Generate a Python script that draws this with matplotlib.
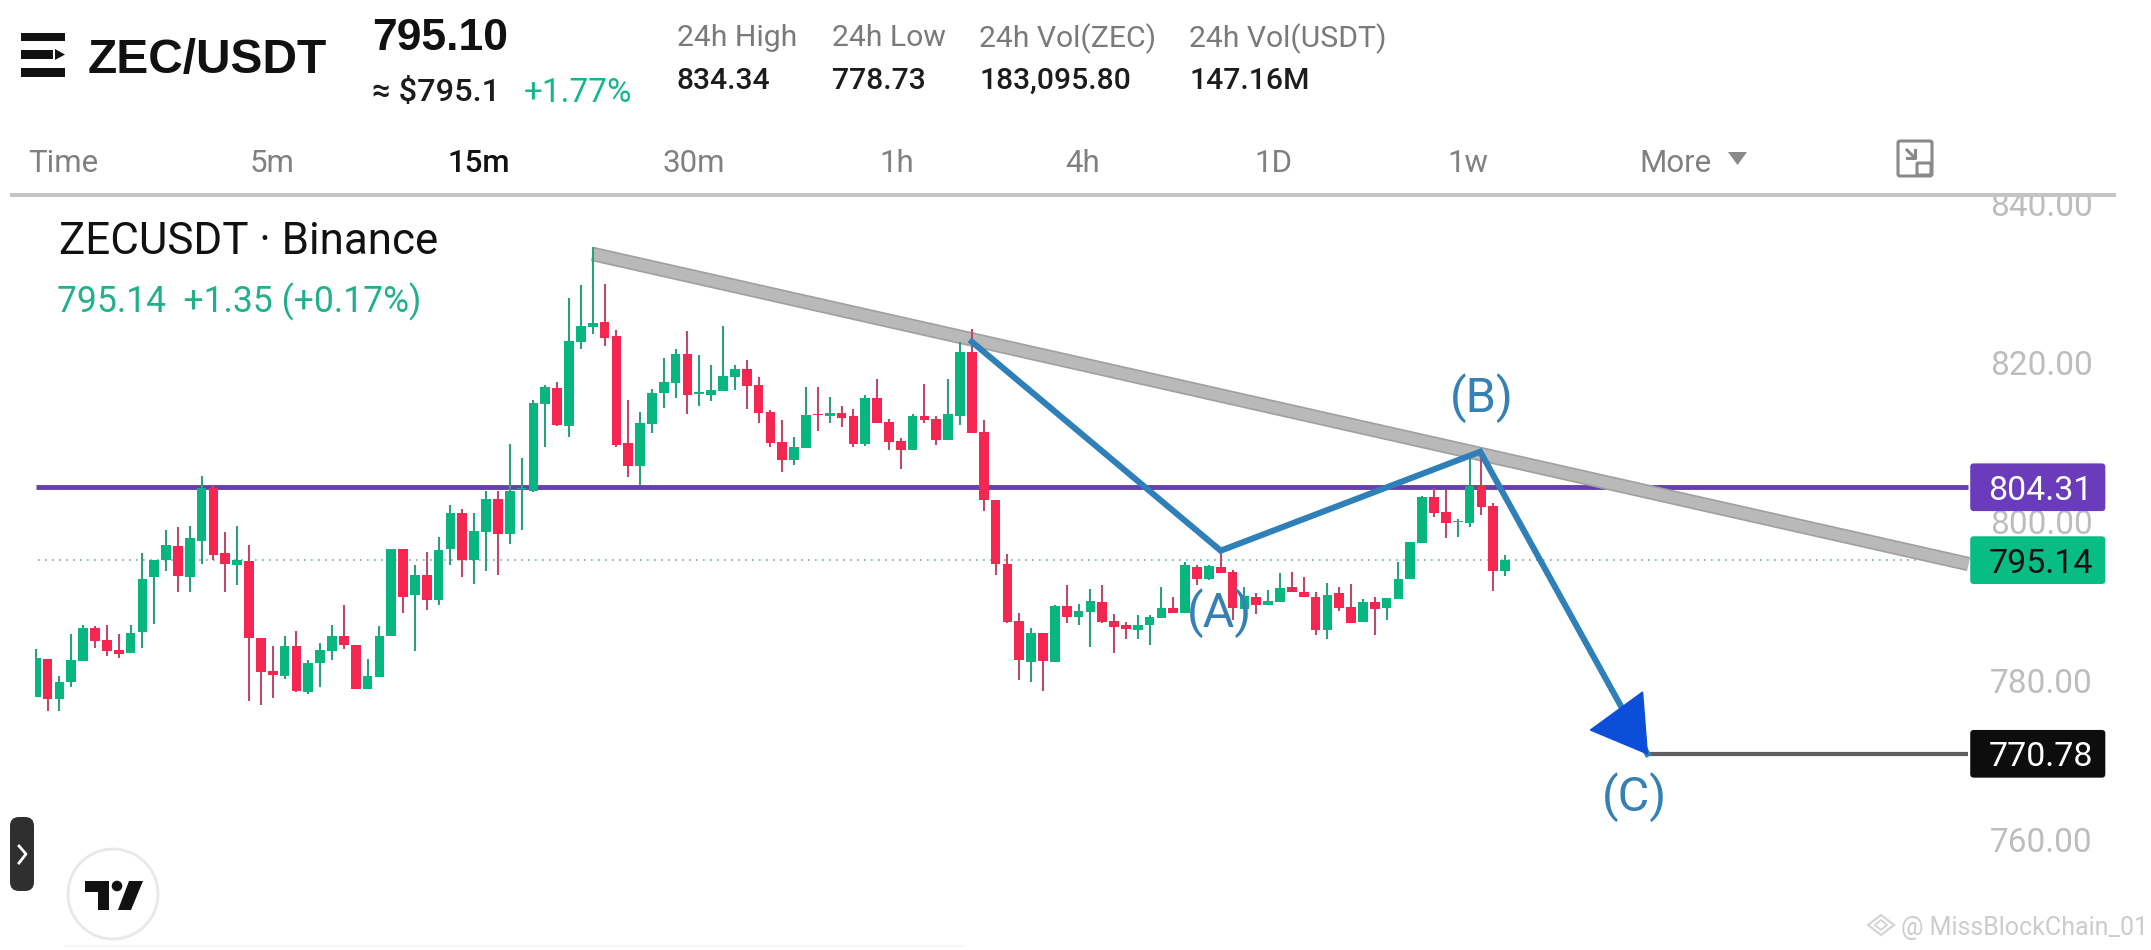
import matplotlib
matplotlib.use("Agg")
import matplotlib.pyplot as plt
import numpy as np
from matplotlib.patches import Rectangle, FancyBboxPatch, Polygon, Circle

plt.rcParams['font.family'] = ['Roboto', 'DejaVu Sans']

# candles (15m, oldest first)
opens = [777.96, 782.68, 777.73, 779.76, 782.50, 786.58, 785.06, 783.80, 783.40, 786.14, 792.96, 795.12, 796.87, 793.05, 797.59,
         804.24, 796.02, 794.58, 794.99, 785.33, 781.15, 780.57, 784.30, 778.59, 782.14, 783.71, 785.55, 784.43, 778.99, 780.39,
         785.55, 796.51, 790.72, 793.23, 790.18, 796.51, 801.05, 795.21, 798.71, 802.80, 798.49, 804.06, 803.88, 814.75, 816.82,
         812.06, 822.62, 824.51, 825.06, 823.34, 809.83, 807.03, 812.31, 816.21, 817.47, 821.07, 816.08, 815.96, 816.42, 818.22,
         819.14, 817.13, 813.78, 809.96, 807.74, 809.25, 813.52, 813.23, 813.61, 813.27, 809.75, 815.50, 812.48, 810.09, 809.04,
         813.23, 812.90, 810.25, 813.31, 821.32, 811.26, 802.71, 794.70, 787.45,
         782.37, 785.93, 782.37, 789.37, 788.03, 788.66, 789.83, 787.44, 786.98, 786.35, 787.02, 787.90, 789.07, 788.53, 794.32,
         792.81, 794.23, 793.60, 788.95, 790.54, 789.54, 789.91, 791.72, 791.17, 790.46, 786.39, 790.96, 789.20, 787.40, 789.83,
         789.16, 790.21, 792.81, 797.34, 803.04, 801.15, 799.89, 799.85, 804.42, 801.91, 793.81]
closes = [782.86, 777.73, 779.76, 782.54, 786.58, 785.01, 783.71, 783.35, 785.96, 792.74, 795.21, 797.05, 793.19, 797.91, 804.24,
          795.79, 794.63, 795.21, 785.33, 781.01, 780.75, 784.30, 778.72, 782.18, 783.80, 785.55, 784.52, 778.99, 780.52, 785.55,
          796.51, 790.54, 793.28, 790.18, 796.38, 801.05, 795.21, 798.76, 802.85, 798.49, 803.79, 804.24, 814.88, 816.91, 812.14,
          822.67, 824.55, 824.93, 823.13, 809.63, 807.03, 812.35, 816.12, 817.51, 821.07, 815.96, 816.29, 816.50, 818.30, 819.14,
          817.09, 813.69, 809.92, 807.74, 809.33, 813.36, 813.36, 813.61, 813.02, 809.75, 815.58, 812.43, 810.04, 809.04, 813.27,
          812.77, 810.25, 813.48, 821.32, 811.18, 802.71, 794.70, 787.36, 782.54,
          785.93, 782.49, 789.37, 788.03, 788.70, 789.96, 787.36, 786.77, 786.52, 786.94, 787.94, 789.07, 788.53, 794.53, 792.81,
          794.40, 793.56, 789.07, 790.63, 789.45, 789.96, 791.59, 791.17, 790.54, 786.39, 790.79, 789.16, 787.27, 789.83, 789.03,
          790.33, 792.81, 797.38, 803.04, 801.11, 799.85, 800.10, 804.42, 801.86, 793.81, 795.14]
highs = [783.98, 782.68, 780.52, 785.91, 787.03, 786.81, 786.94, 785.91, 786.94, 796.02, 795.21, 798.94, 799.30, 799.39, 805.68,
         804.55, 798.62, 799.39, 797.05, 785.33, 784.34, 785.55, 786.23, 782.63, 784.70, 787.03, 789.50, 784.43, 782.68, 786.81,
         796.51, 796.51, 794.54, 796.11, 798.04, 802.08, 801.63, 801.05, 803.79, 803.79, 809.72, 808.01, 815.24, 817.13, 817.49,
         828.07, 829.75, 834.49, 829.84, 824.09, 815.29, 813.73, 816.63, 820.53, 821.70, 823.97, 820.95, 819.69, 824.59, 819.69,
         820.32, 818.18, 813.99, 812.77, 810.59, 816.96, 816.92, 815.71, 814.53, 814.15, 815.91, 817.93, 812.90, 810.55, 813.52,
         817.30, 813.23, 817.93, 822.62, 824.17, 812.77, 802.71, 795.91, 788.45,
         786.56, 785.93, 789.45, 792.01, 789.62, 791.46, 792.01, 788.36, 787.40, 788.24, 788.24, 791.72, 790.54, 794.90, 794.48,
         794.48, 796.41, 793.90, 791.80, 790.96, 791.38, 793.48, 793.60, 792.97, 791.17, 792.30, 791.72, 792.09, 790.25, 790.46,
         790.42, 794.95, 797.38, 803.25, 804.17, 803.96, 800.31, 808.15, 808.57, 802.28, 795.78]
lows = [777.96, 776.16, 776.16, 779.17, 782.50, 784.11, 783.13, 782.86, 783.40, 784.03, 787.12, 793.77, 791.08, 791.08, 794.67,
        795.12, 791.17, 792.07, 777.47, 776.93, 777.83, 780.16, 778.59, 778.27, 779.17, 782.63, 783.98, 778.99, 778.99, 780.39,
        785.55, 788.52, 783.75, 788.87, 789.50, 794.58, 793.05, 792.20, 793.82, 793.32, 797.23, 798.94, 803.74, 809.40, 812.05,
        810.67, 821.66, 823.59, 822.12, 809.42, 805.64, 804.59, 811.18, 814.32, 815.58, 813.57, 814.57, 815.20, 816.42, 816.54,
        814.15, 812.43, 809.42, 806.27, 807.11, 809.25, 811.39, 812.35, 811.89, 809.42, 809.54, 812.43, 808.99, 806.61, 809.04,
        812.39, 809.67, 810.25, 812.14, 811.18, 801.37, 793.23, 787.19, 780.06,
        779.85, 778.72, 782.37, 787.27, 786.98, 784.25, 787.19, 783.41, 785.22, 785.18, 784.46, 787.82, 788.53, 788.53, 792.01,
        792.64, 793.56, 787.61, 788.95, 788.36, 789.54, 789.91, 791.17, 790.46, 785.68, 785.26, 788.74, 787.27, 787.40, 785.72,
        787.61, 790.21, 792.81, 797.34, 800.61, 797.96, 798.09, 799.35, 800.82, 791.30, 793.18]

price_ticks = [840, 820, 800, 780, 760]
resistance = 804.31
last_price = 795.14
target = 770.78

# drawings on the chart: candle index, price
trend_idx = [47, 163.1]
trend_price = [833.65, 794.65]
wave_idx = [79, 100, 121.9, 136]
wave_price = [822.6, 796.33, 808.78, 770.78]
head_idx = [135.6, 131.2, 136]
head_price = [778.55, 773.77, 770.78]
wave_labels = ["(A)", "(B)", "(C)"]
wave_label_idx = [99.9, 122.0, 134.9]
wave_label_price = [788.5, 815.5, 765.3]

periods = ["Time", "5m", "15m", "30m", "1h", "4h", "1D", "1w", "More"]
period_px = [28, 250, 447, 662, 879, 1065, 1254, 1447, 1639]
stat_names = ["24h High", "24h Low", "24h Vol(ZEC)", "24h Vol(USDT)"]
stat_values = ["834.34", "778.73", "183,095.80", "147.16M"]
stat_px = [677, 832, 979, 1189]

GREEN = '#07b57f'
RED = '#f5264f'
BLUE = '#2f80b9'
W, H = 2151, 950

fig = plt.figure(figsize=(W / 100, H / 100), dpi=100, facecolor='white')

# chart axes: 11.85 px per candle, 7.95 px per price unit
ax = fig.add_axes([35 / W, 0, (W - 35) / W, 1], zorder=1)
ax.set_xlim(-0.06, -0.06 + (W - 35) / 11.85)
ax.set_ylim(820 - (H - 362.5) / 7.95, 820 + 362.5 / 7.95)
for s in ax.spines.values():
    s.set_visible(False)
ax.set_xticks([])
ax.yaxis.tick_right()
ax.set_yticks(price_ticks)
ax.set_yticklabels([f"{p:.2f}" for p in price_ticks], fontsize=24, color='#bdbdbd')
ax.tick_params(axis='y', length=0, pad=-(W - 1990) * 0.72)

x = np.arange(len(opens))
o, c, hi, lo = map(np.array, (opens, closes, highs, lows))
up = c >= o

ax.hlines(last_price, -1, 163.1, color='#6fae9c', lw=1.2, linestyles=(0, (1, 3.2)), zorder=2)
ax.hlines(resistance, 0, 163.1, color='#673fa6', lw=3.5, zorder=2)
ax.plot(trend_idx, trend_price, color='#a0a0a0', lw=10.4, solid_capstyle='butt', zorder=2.2)
ax.plot(trend_idx, trend_price, color='#b9b9b9', lw=8, solid_capstyle='butt', zorder=2.3)

ax.vlines(x[up], lo[up], hi[up], color='#2c9d7e', lw=1.5, zorder=3)
ax.vlines(x[~up], lo[~up], hi[~up], color='#bd4a68', lw=1.5, zorder=3)
ax.bar(x[up], (c - o)[up], bottom=o[up], width=0.82, color=GREEN, zorder=3.1)
ax.bar(x[~up], (c - o)[~up], bottom=o[~up], width=0.82, color=RED, zorder=3.1)

ax.hlines(target, wave_idx[-1], 163.1, color='#606060', lw=3, zorder=3.5)
ax.plot(wave_idx, wave_price, color=BLUE, lw=4.4, solid_joinstyle='miter', zorder=4)
ax.add_patch(Polygon(np.column_stack([head_idx, head_price]), closed=True, color='#0b4fd8', zorder=4.2))
for lab, lx, ly in zip(wave_labels, wave_label_idx, wave_label_price):
    ax.text(lx, ly, lab, fontsize=35, color='#3580b4', ha='center', va='center', zorder=4.5)

# price tags on the axis
for price, bg, fg in [(resistance, '#6a3bbb', 'white'), (last_price, '#07bd84', '#111111'), (target, '#0d0d0d', 'white')]:
    ax.add_patch(FancyBboxPatch((163.25, price - 3), 11.4, 6, boxstyle='round,pad=0,rounding_size=0.3',
                                mutation_aspect=1.49, fc=bg, ec='none', zorder=5))
    ax.text(169.2, price, f"{price:.2f}", fontsize=24.5, color=fg, ha='center', va='center_baseline', zorder=6)

# page furniture in pixel coordinates
ui = fig.add_axes([0, 0, 1, 1], zorder=5)
ui.set_xlim(0, W)
ui.set_ylim(H, 0)
ui.axis('off')
ui.add_patch(Rectangle((0, 0), W, 193, fc='white', ec='none'))
ui.add_patch(Rectangle((10, 193), 2106, 3.5, fc='#c4c4c4', ec='none'))

# exchange mark next to the pair
for rx, ry, rw, rh in [(21, 33, 44, 8), (21, 50, 32, 9), (21, 68, 44, 9)]:
    ui.add_patch(Rectangle((rx, ry), rw, rh, fc='#111111', ec='none'))
ui.add_patch(Polygon([(55, 49), (65, 54.5), (55, 60)], closed=True, fc='#111111', ec='none'))

ui.text(88, 56, "ZEC/USDT", fontsize=34.5, family='Liberation Sans', weight='bold', color='#111111', va='center_baseline')
ui.text(372, 34, "795.10", fontsize=32, family='Liberation Sans', weight='bold', color='#111111', va='center_baseline')
ui.text(372, 89, "≈ $795.1", fontsize=23.4, weight='medium', color='#1c1c1c', va='center_baseline')
ui.text(524, 89, "+1.77%", fontsize=24, color='#16b68c', va='center_baseline')
for name, val, px in zip(stat_names, stat_values, stat_px):
    ui.text(px, 35, name, fontsize=21.7, color='#7a7a7a', va='center_baseline')
    ui.text(px, 78, val, fontsize=21.7, weight='medium', color='#1c1c1c', va='center_baseline')

for name, px in zip(periods, period_px):
    active = name == "15m"
    ui.text(px, 160, name, fontsize=22.5, color='#111111' if active else '#808080',
            weight='medium' if active else 'normal', va='center_baseline')
ui.add_patch(Polygon([(1728, 152), (1747, 152), (1737.5, 165)], closed=True, fc='#8a8a8a', ec='none'))

# fullscreen icon
ui.add_patch(FancyBboxPatch((1898, 141), 34, 35, boxstyle='round,pad=0,rounding_size=2', fc='none', ec='#8a8a8a', lw=2.2))
ui.add_patch(FancyBboxPatch((1917, 163), 14, 12, boxstyle='round,pad=0,rounding_size=1', fc='white', ec='#8a8a8a', lw=2.2))
ui.plot([1907, 1915], [150, 158], color='#8a8a8a', lw=2.2)
ui.plot([1907, 1915, 1915], [158, 158, 150], color='#8a8a8a', lw=2.2)

ui.text(59, 238, "ZECUSDT · Binance", fontsize=31.6, color='#111111', va='center_baseline')
ui.text(57, 298, "795.14  +1.35 (+0.17%)", fontsize=25.6, color='#22b08c', va='center_baseline')

# side button and tradingview badge
ui.add_patch(FancyBboxPatch((10, 817), 24, 74, boxstyle='round,pad=0,rounding_size=9', fc='#2f2f2f', ec='none'))
ui.plot([19, 26, 19], [846, 854, 863], color='white', lw=2)
ui.add_patch(Circle((113, 894), 45, fc='white', ec='#e8e8e8', lw=2))
ui.add_patch(Polygon([(85, 881), (109, 881), (109, 910), (98, 910), (98, 892), (85, 892)], closed=True, fc='#111111', ec='none'))
ui.add_patch(Circle((117, 886), 5.3, fc='#111111', ec='none'))
ui.add_patch(Polygon([(129, 881), (143, 881), (131, 910), (118, 910)], closed=True, fc='#111111', ec='none'))
ui.add_patch(Rectangle((65, 945), 900, 2, fc='#f7f7f7', ec='none'))

# watermark
ui.add_patch(Polygon([(1868, 925), (1881, 915), (1894, 925), (1881, 935)], closed=True, fc='none', ec='#d4d4d4', lw=1.6))
ui.add_patch(Polygon([(1875, 925), (1881, 920), (1887, 925), (1881, 930)], closed=True, fc='none', ec='#d4d4d4', lw=1.4))
ui.text(1901, 925, "@ MissBlockChain_01", fontsize=18, color='#cccccc', va='center_baseline')

fig.savefig("out.png", dpi=100)
